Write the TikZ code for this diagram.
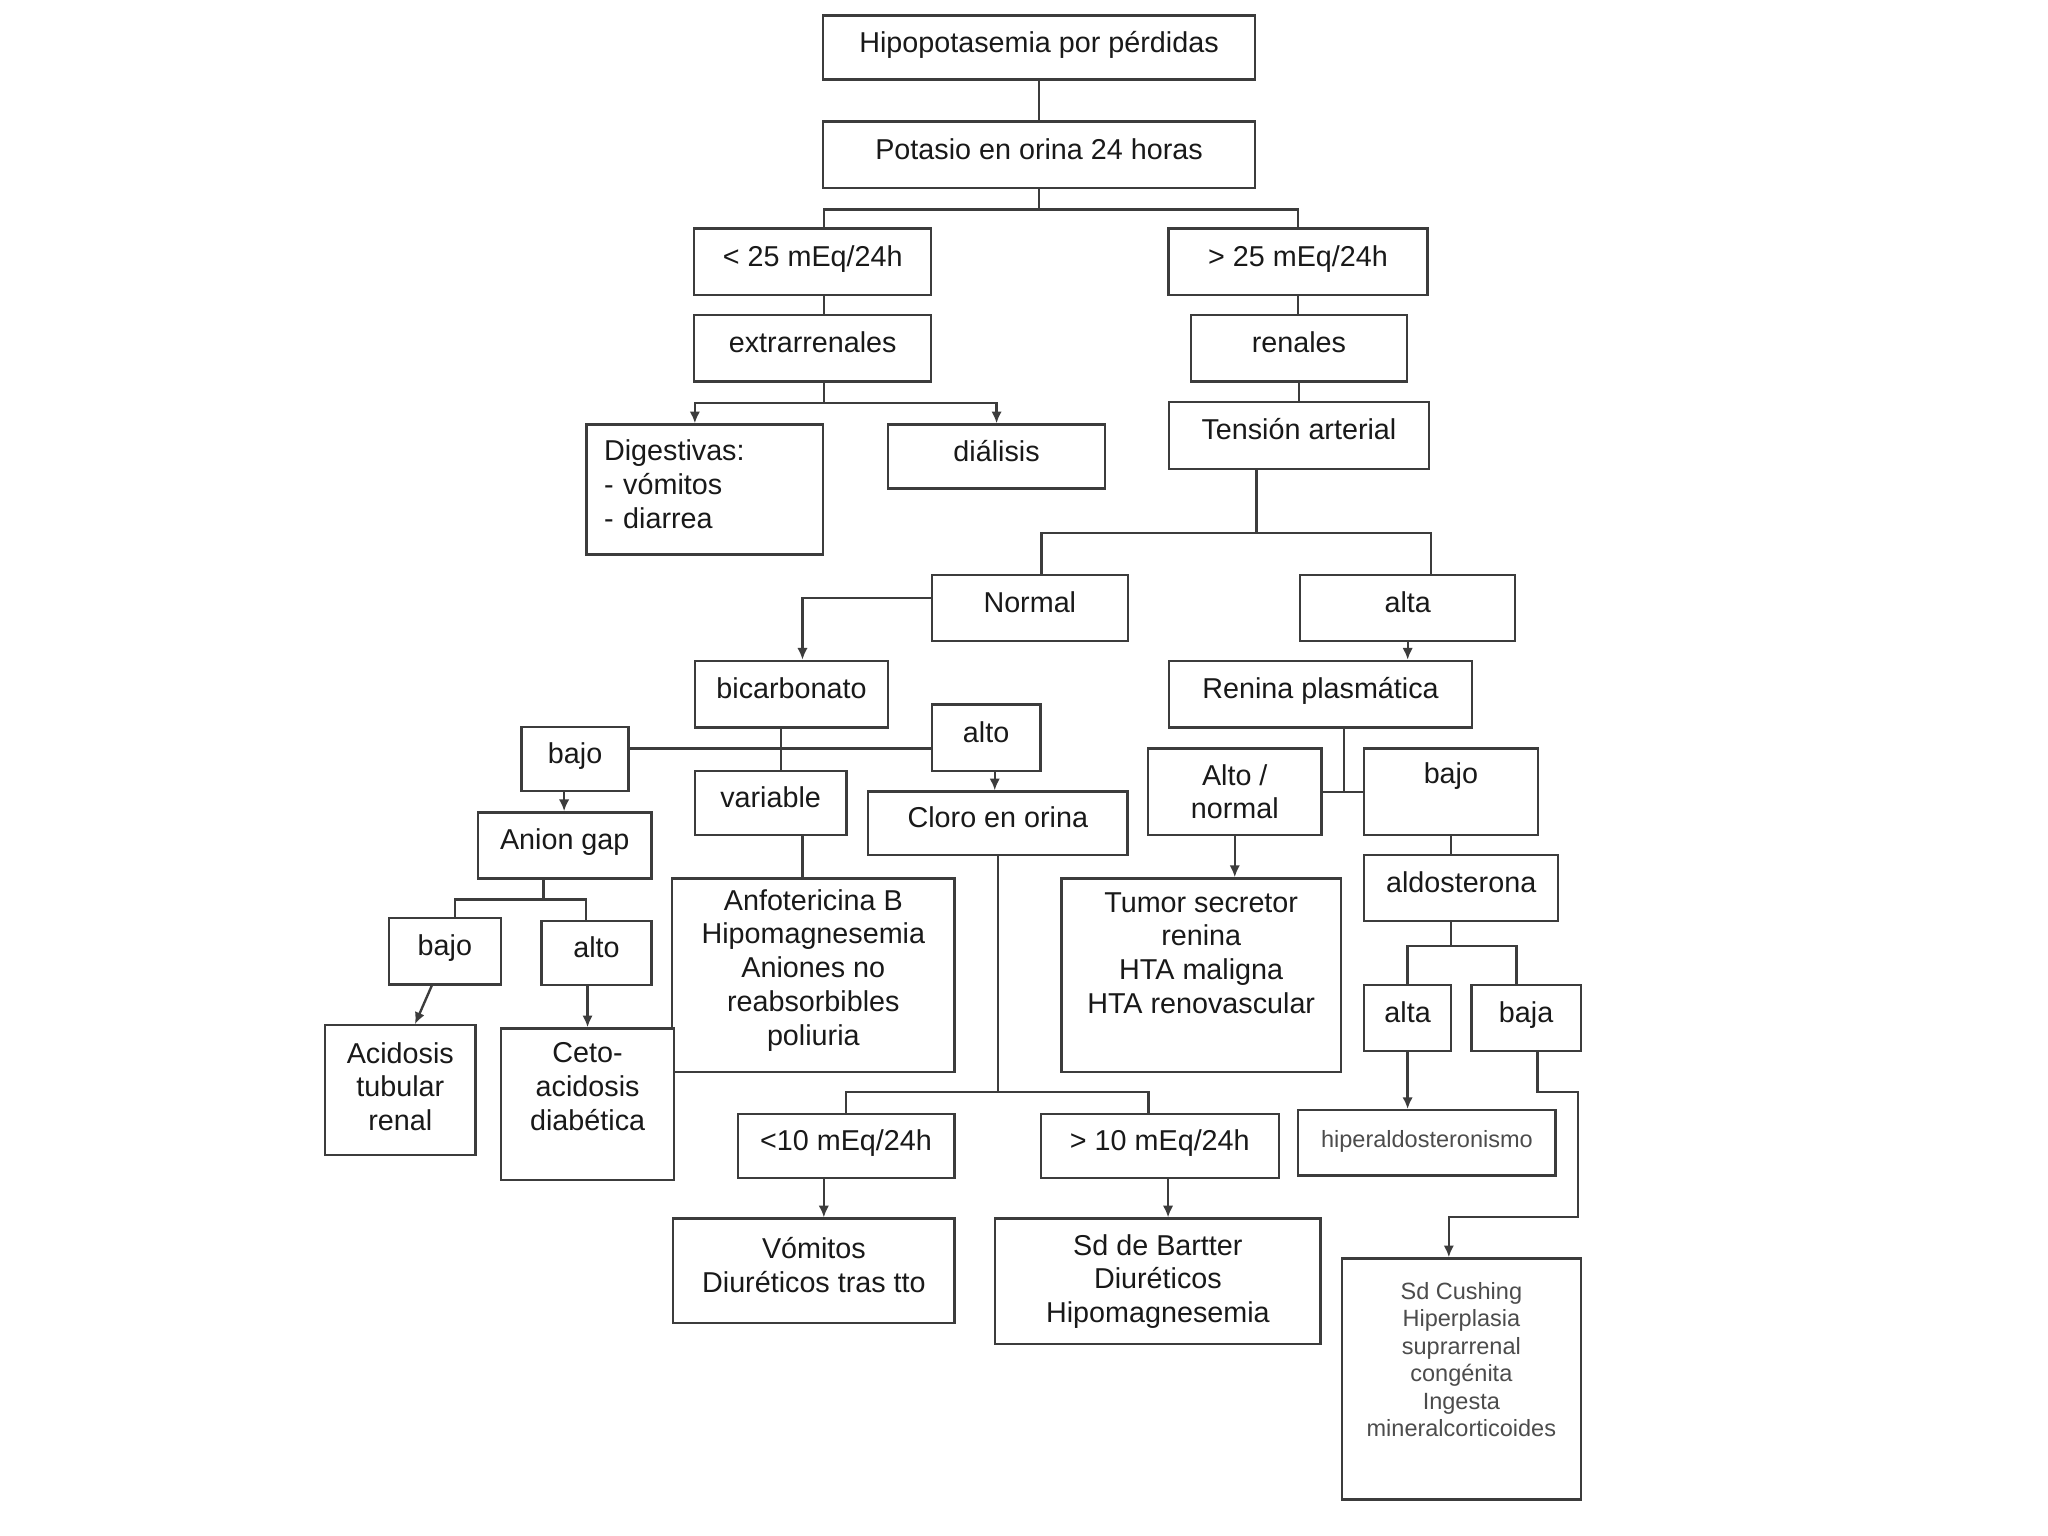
\documentclass[tikz,border=0pt]{standalone}
\usepackage{fontspec}
\setmainfont{Liberation Sans}
\usetikzlibrary{arrows.meta}
\definecolor{linegray}{RGB}{60,60,60}
\definecolor{textgray}{RGB}{25,25,25}
\newcommand{\padbelow}[1]{\rule[-#1]{0pt}{#1}}

\begin{document}
\begin{tikzpicture}[x=0.5pt, y=-0.5pt,
    bx/.style={draw=linegray, line width=0.9pt, fill=white, inner sep=1pt, align=center,
        text=textgray, font=\fontsize{11}{12.9}\selectfont},
    one/.style={bx, text height=8pt, text depth=4.5pt},
    small/.style={font=\fontsize{9}{10.5}\selectfont, text=black!70},
    con/.style={draw=linegray, line width=0.9pt},
    arr/.style={con, -{Latex[length=4.5pt, width=4pt]}}]
    % Canvas
    \fill[white] (0,0) rectangle (1568,1176);

    % Top of the tree
    \node[one, minimum width=165.5pt, minimum height=24.5pt] (hipo) at (795.5,36.5) {Hipopotasemia por pérdidas};
    \node[one, minimum width=165.5pt, minimum height=25.5pt] (potasio) at (795.5,118.5) {Potasio en orina 24 horas};
    \node[one, minimum width=90.75pt, minimum height=25.5pt] (menos25) at (622.25,200.5) {< 25 mEq/24h};
    \node[one, minimum width=99.2pt, minimum height=25.5pt] (mas25) at (993.8,200.5) {> 25 mEq/24h};
    \node[one, minimum width=90.75pt, minimum height=25.5pt] (extrarr) at (622.25,266.5) {extrarrenales};
    \node[one, minimum width=82.5pt, minimum height=25.5pt] (renales) at (994.5,266.5) {renales};

    % Extrarrenales branch
    \node[bx, align=left, text width=77pt, inner xsep=6.75pt, minimum height=49.75pt] (digest) at (539.5,374.75) {Digestivas:\\- vómitos\\- diarrea\padbelow{4pt}};
    \node[one, minimum width=83pt, minimum height=24.5pt] (dialisis) at (763,349.5) {diálisis};

    % Renales branch
    \node[one, minimum width=99.5pt, minimum height=25.7pt] (tension) at (994.5,333.3) {Tensión arterial};
    \node[one, minimum width=75pt, minimum height=25.5pt] (normal) at (788.45,465.5) {Normal};
    \node[one, minimum width=82.25pt, minimum height=25.5pt] (alta) at (1077.75,465.5) {alta};

    % Normal tension
    \node[one, minimum width=74pt, minimum height=25.5pt] (bicarb) at (606,531.5) {bicarbonato};
    \node[one, minimum width=41.5pt, minimum height=25.55pt] (alto) at (755,564.85) {alto};
    \node[one, minimum width=41pt, minimum height=24.65pt] (bajo1) at (440.3,581.05) {bajo};
    \node[one, minimum width=58pt, minimum height=24.5pt] (variable) at (590,614.9) {variable};
    \node[one, minimum width=99.35pt, minimum height=24.35pt] (cloro) at (763.95,630.35) {Cloro en orina};
    \node[one, minimum width=66.4pt, minimum height=25.25pt] (anion) at (432.4,647.25) {Anion gap};
    \node[one, minimum width=43pt, minimum height=25.35pt] (bajo3) at (340.6,728.35) {bajo};
    \node[one, minimum width=42.15pt, minimum height=24.5pt] (alto3) at (456.65,729.5) {alto};
    \node[bx, minimum width=108pt, minimum height=74.05pt] (anfot) at (622.7,746.55) {Anfotericina B\\Hipomagnesemia\\Aniones no\\reabsorbibles\\poliuria\padbelow{6pt}};
    \node[bx, minimum width=57.5pt, minimum height=49.7pt] (acidosis) at (306.5,834.7) {Acidosis\\tubular\\renal\padbelow{3pt}};
    \node[bx, minimum width=66.3pt, minimum height=58.05pt] (ceto) at (449.9,845.45) {Ceto-\\acidosis\\diabética\padbelow{13.5pt}};
    \node[one, minimum width=82.95pt, minimum height=24.5pt] (menos10) at (647.75,877.5) {<10 mEq/24h};
    \node[one, minimum width=91pt, minimum height=24.5pt] (mas10) at (888,877.5) {> 10 mEq/24h};
    \node[bx, minimum width=107.65pt, minimum height=40pt] (vomitos) at (623.15,973) {Vómitos\\Diuréticos tras tto\padbelow{4.5pt}};
    \node[bx, minimum width=124.5pt, minimum height=48pt] (bartter) at (886.5,981) {Sd de Bartter\\Diuréticos\\Hipomagnesemia};

    % High tension
    \node[one, minimum width=116pt, minimum height=25.5pt] (renina) at (1011,531.5) {Renina plasmática};
    \node[bx, minimum width=66.35pt, minimum height=33.2pt] (altonorm) at (945.35,606.2) {Alto /\\normal};
    \node[one, text depth=14.5pt, minimum width=66.45pt, minimum height=33.2pt] (bajo2) at (1110.85,606.2) {bajo};
    \node[one, minimum width=74.3pt, minimum height=25.25pt] (aldos) at (1118.7,679.95) {aldosterona};
    \node[bx, minimum width=107.05pt, minimum height=74.05pt] (tumor) at (919.65,746.55) {Tumor secretor\\renina\\HTA maligna\\HTA renovascular\padbelow{17pt}};
    \node[one, minimum width=33.3pt, minimum height=25.25pt] (alta2) at (1077.7,779.45) {alta};
    \node[one, minimum width=41.75pt, minimum height=25.25pt] (baja) at (1168.45,779.45) {baja};
    \node[one, small, minimum width=98.5pt, minimum height=25pt] (hiper) at (1092.5,875) {hiperaldosteronismo};
    \node[bx, small, minimum width=91.55pt, minimum height=92.25pt] (cushing) at (1118.85,1055.75) {Sd Cushing\\Hiperplasia\\suprarrenal\\congénita\\Ingesta\\mineralcorticoides\padbelow{15pt}};

    % Connectors, top
    \draw[con] (hipo) -- (potasio);
    \draw[con] (potasio.south) -- ++(0,15.5) -| ([xshift=4.4pt]menos25.north);
    \draw[con] (potasio.south) -- ++(0,15.5) -| (mas25.north);
    \draw[con] ([xshift=4.4pt]menos25.south) -- ([xshift=4.4pt]extrarr.north);
    \draw[con] (mas25.south) -- (mas25.south |- renales.north);
    \foreach \t/\s in {digest/-3.75pt, dialisis/0pt}
        \draw[arr] ([xshift=4.4pt]extrarr.south) -- ++(0,15.6) -| ([xshift=\s]\t.north);
    \draw[con] (renales.south) -- (renales.south |- tension.north);
    \foreach \t/\s in {normal/4.5pt, alta/8.8pt}
        \draw[con] ([xshift=-16.25pt]tension.south) -- ++(0,48) -| ([xshift=\s]\t.north);

    % Connectors, normal tension
    \draw[arr] ([yshift=3.75pt]normal.west) -| ([xshift=4.2pt]bicarb.north);
    \draw[con] ([xshift=-4pt]bicarb.south) -- ([xshift=-4pt]bicarb.south |- variable.north);
    \draw[con] ([yshift=4pt]bajo1.east) -- ([yshift=4pt]bajo1.east -| alto.west);
    \draw[arr] ([xshift=-4.2pt]bajo1.south) -- ([xshift=-4.2pt]bajo1.south |- anion.north);
    \draw[arr] ([xshift=3.3pt]alto.south) -- ([xshift=3.3pt]alto.south |- cloro.north);
    \foreach \t/\s in {bajo3/3.9pt, alto3/-4pt}
        \draw[con] ([xshift=-8.2pt]anion.south) -- ++(0,15.3) -| ([xshift=\s]\t.north);
    \draw[arr] ([xshift=-5pt]bajo3.south) -- ([xshift=5.6pt]acidosis.north);
    \draw[arr] ([xshift=-3.4pt]alto3.south) -- ([xshift=-3.4pt]alto3.south |- ceto.north);
    \draw[con] ([xshift=12.25pt]variable.south) -- ([xshift=12.25pt]variable.south |- anfot.north);
    \foreach \t/\s in {menos10/0pt, mas10/-4.35pt}
        \draw[con] (cloro.south) -- ++(0,180.3) -| ([xshift=\s]\t.north);
    \draw[arr] ([xshift=-8.5pt]menos10.south) -- ([xshift=-8.5pt]menos10.south |- vomitos.north);
    \draw[arr] ([xshift=3.15pt]mas10.south) -- ([xshift=3.15pt]mas10.south |- bartter.north);

    % Connectors, high tension
    \draw[arr] (alta.south) -- (alta.south |- renina.north);
    \draw[con] (altonorm.east) -- (bajo2.west);
    \draw[con] ([xshift=8.95pt]renina.south) -- ([xshift=8.95pt]renina.south |- altonorm.east);
    \draw[arr] (altonorm.south) -- (altonorm.south |- tumor.north);
    \draw[con] (bajo2.south) -- (bajo2.south |- aldos.north);
    \foreach \t/\s in {alta2/0pt, baja/-3.7pt}
        \draw[con] ([xshift=-3.85pt]aldos.south) -- ++(0,18.4) -| ([xshift=\s]\t.north);
    \draw[arr] (alta2.south) -- (alta2.south |- hiper.north);
    \draw[arr] ([xshift=4.4pt]baja.south) -- ++(0,30.3) -| ++(30.7,96.1) -| ([xshift=-4.8pt]cushing.north);
\end{tikzpicture}
\end{document}
